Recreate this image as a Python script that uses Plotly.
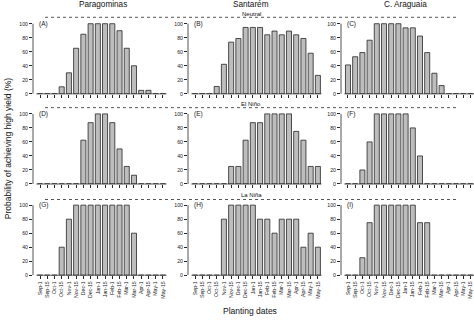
import plotly.graph_objects as go

W, H = 474, 322

# Planting dates (x categories)
dates = ["Sep-1", "Sep-15", "Oct-1", "Oct-15", "Nov-1", "Nov-15", "Dec-1", "Dec-15",
         "Jan-1", "Jan-15", "Feb-1", "Feb-15", "Mar-1", "Mar-15", "Apr-1", "Apr-15",
         "May-1", "May-15"]

sites = ["Paragominas", "Santarém", "C. Araguaia"]
phases = ["Neutral", "El Niño", "La Niña"]

# Probability of achieving high yield (%) per site and ENSO phase
neutral_paragominas = [0, 0, 0, 10, 30, 65, 85, 100, 100, 100, 100, 90, 65, 40, 5, 5, 0, 0]
neutral_santarem = [0, 0, 0, 10.5, 42.1, 73.7, 78.9, 94.7, 94.7, 94.7, 84.2, 89.5, 84.2, 89.5,
                    84.2, 78.9, 57.9, 26.3]
neutral_araguaia = [41.2, 52.9, 58.8, 76.5, 100, 100, 100, 100, 94.1, 94.1, 82.4, 58.8, 29.4,
                    11.8, 0, 0, 0, 0]

elnino_paragominas = [0, 0, 0, 0, 0, 0, 62.5, 87.5, 100, 100, 87.5, 50, 25, 12.5, 0, 0, 0, 0]
elnino_santarem = [0, 0, 0, 0, 0, 25, 25, 62.5, 87.5, 87.5, 100, 100, 100, 100, 75, 62.5, 25, 25]
elnino_araguaia = [0, 0, 20, 60, 100, 100, 100, 100, 100, 80, 40, 0, 0, 0, 0, 0, 0, 0]

lanina_paragominas = [0, 0, 0, 40, 80, 100, 100, 100, 100, 100, 100, 100, 100, 60, 0, 0, 0, 0]
lanina_santarem = [0, 0, 0, 0, 80, 100, 100, 100, 100, 80, 80, 60, 80, 80, 80, 40, 60, 40]
lanina_araguaia = [0, 0, 25, 75, 100, 100, 100, 100, 100, 100, 75, 75, 0, 0, 0, 0, 0, 0]

panels = [
    [neutral_paragominas, neutral_santarem, neutral_araguaia],
    [elnino_paragominas, elnino_santarem, elnino_araguaia],
    [lanina_paragominas, lanina_santarem, lanina_araguaia],
]
letters = ["(A)", "(B)", "(C)", "(D)", "(E)", "(F)", "(G)", "(H)", "(I)"]

yticks = [0, 20, 40, 60, 80, 100]

# panel geometry in pixels
col_left = [33, 188, 341]
col_right = [166.5, 321.5, 474]
row_bottom = [94, 185.3, 277.7]
YMAX = 103
px_per_unit = 71.0 / 100
row_top = [b - YMAX * px_per_unit for b in row_bottom]
xrange_ = [-0.97, 17.5]

FONT = "Liberation Sans, Arial, sans-serif"
BAR_FILL = "#bdbdbd"
EDGE = "#262626"

fig = go.Figure()
layout = {}
shapes = []
annotations = []

idx = 0
for r in range(3):
    for c in range(3):
        idx += 1
        sfx = "" if idx == 1 else str(idx)
        xa, ya = "x" + sfx, "y" + sfx
        vals = panels[r][c]
        xs = list(range(len(dates)))

        fig.add_trace(go.Bar(
            x=xs, y=vals, xaxis=xa, yaxis=ya, width=0.7,
            marker=dict(color=BAR_FILL, line=dict(color=EDGE, width=0.8)),
            showlegend=False, hoverinfo="skip"))
        # bottom edge of each bar (visible also for zero-height bars)
        fig.add_trace(go.Scatter(
            x=xs, y=[0] * len(xs), xaxis=xa, yaxis=ya, mode="markers",
            marker=dict(symbol="line-ew", size=5, line=dict(color=EDGE, width=0.9)),
            showlegend=False, hoverinfo="skip", cliponaxis=False))

        layout["xaxis" + sfx] = dict(
            domain=[col_left[c] / W, col_right[c] / W], anchor=ya,
            range=xrange_, tickmode="array", tickvals=xs,
            ticktext=dates if r == 2 else [""] * len(xs),
            showticklabels=(r == 2), tickangle=-90,
            ticks="outside", ticklen=3, tickwidth=0.8, tickcolor=EDGE,
            tickfont=dict(size=5.2, family=FONT, color="#222"),
            showgrid=False, zeroline=False, showline=False, fixedrange=True)
        layout["yaxis" + sfx] = dict(
            domain=[1 - row_bottom[r] / H, 1 - row_top[r] / H], anchor=xa,
            range=[0, YMAX], tickmode="array", tickvals=yticks,
            ticks="outside", ticklen=3, tickwidth=0.8, tickcolor=EDGE,
            tickfont=dict(size=5.2, family=FONT, color="#222"),
            showgrid=False, zeroline=False, showline=False, fixedrange=True)

        # y axis line spanning the tick range only
        shapes.append(dict(type="line", xref=xa + " domain", yref=ya,
                           x0=0, x1=0, y0=0, y1=100,
                           line=dict(color=EDGE, width=0.8)))
        annotations.append(dict(text=letters[idx - 1], xref=xa, yref=ya,
                                x=-0.35, y=100, xanchor="left", yanchor="middle",
                                showarrow=False,
                                font=dict(size=6.5, family=FONT, color="#222")))

# dotted separators above each row
for y in [16.5, 108, 201]:
    shapes.append(dict(type="line", xref="paper", yref="paper",
                       x0=45 / W, x1=457 / W, y0=1 - y / H, y1=1 - y / H,
                       line=dict(color="#555", width=1, dash="dot")))

# site headers
for name, cx in zip(sites, [103, 251, 405]):
    annotations.append(dict(text=name, xref="paper", yref="paper",
                            x=cx / W, y=1 + 2.5 / H, xanchor="center", yanchor="top",
                            showarrow=False, borderpad=0,
                            font=dict(size=8.2, family=FONT, color="#111")))

# ENSO phase labels
for name, cy in zip(phases, [17, 108, 200.5]):
    annotations.append(dict(text=name, xref="paper", yref="paper",
                            x=251 / W, y=1 - cy / H, xanchor="center", yanchor="bottom",
                            showarrow=False, borderpad=0,
                            font=dict(size=6, family=FONT, color="#111")))

# axis titles
annotations.append(dict(text="Probability of achieving high yield (%)", xref="paper",
                        yref="paper", x=8 / W, y=1 - 150 / H, textangle=-90,
                        xanchor="center", yanchor="middle", showarrow=False,
                        font=dict(size=8.5, family=FONT, color="#111")))
annotations.append(dict(text="Planting dates", xref="paper", yref="paper",
                        x=250 / W, y=1 - 314 / H, xanchor="center", yanchor="middle",
                        showarrow=False, font=dict(size=8.5, family=FONT, color="#111")))

fig.update_layout(
    width=W, height=H, margin=dict(l=0, r=0, t=0, b=0),
    paper_bgcolor="white", plot_bgcolor="white",
    shapes=shapes, annotations=annotations, bargap=0.3, **layout)

fig.write_html("out.html", config={"displayModeBar": False})
